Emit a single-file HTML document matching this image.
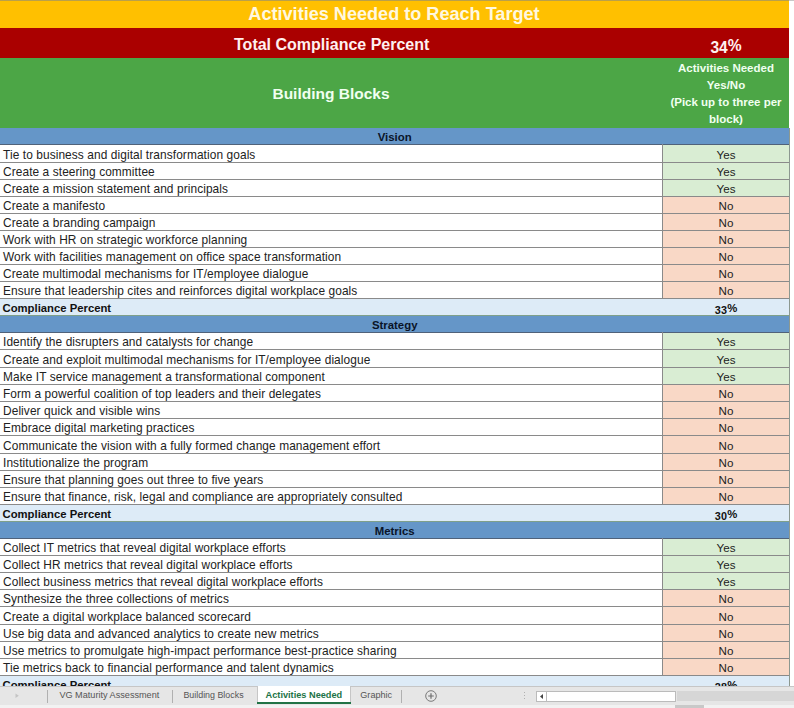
<!DOCTYPE html><html><head><meta charset="utf-8"><style>
html,body{margin:0;padding:0;width:794px;height:708px;overflow:hidden;background:#fff;}
body{position:relative;font-family:"Liberation Sans",sans-serif;}
.a{position:absolute;}
.t{position:absolute;white-space:nowrap;line-height:1;}
</style></head><body>

<div class="a" style="left:0;top:0;width:789px;height:1px;background:#B9A04A"></div>
<div class="a" style="left:789px;top:0;width:5px;height:1px;background:#C8C8C8"></div>
<div class="a" style="left:0;top:1px;width:789px;height:27px;background:#FFC000"></div>
<div class="a" style="left:0;top:28px;width:789px;height:30px;background:#AA0000"></div>
<div class="a" style="left:0;top:58px;width:789px;height:70px;background:#4CA646"></div>
<div class="t" style="left:94px;width:600px;text-align:center;top:5.48px;font-size:18.1px;font-weight:bold;color:#FFF8E0;">Activities Needed to Reach Target</div>
<div class="t" style="left:31.69999999999999px;width:600px;text-align:center;top:36.76px;font-size:16.0px;font-weight:bold;color:#FFF0F0;">Total Compliance Percent</div>
<div class="t" style="left:426px;width:600px;text-align:center;top:37.59px;font-size:15.6px;font-weight:bold;color:#FFF0F0;"><span style="position:relative;top:2.5px">34</span>%</div>
<div class="t" style="left:31px;width:600px;text-align:center;top:86.18px;font-size:15.5px;font-weight:bold;color:#F0FFF0;">Building Blocks</div>
<div class="t" style="left:426px;width:600px;text-align:center;top:62.97px;font-size:11.5px;font-weight:bold;color:#F0FFF0;">Activities Needed</div>
<div class="t" style="left:426px;width:600px;text-align:center;top:79.87px;font-size:11.5px;font-weight:bold;color:#F0FFF0;">Yes/No</div>
<div class="t" style="left:426px;width:600px;text-align:center;top:96.67px;font-size:11.5px;font-weight:bold;color:#F0FFF0;">(Pick up to three per</div>
<div class="t" style="left:426px;width:600px;text-align:center;top:113.57px;font-size:11.5px;font-weight:bold;color:#F0FFF0;">block)</div>
<div class="a" style="left:0;top:128px;width:789px;height:16px;background:#6596C8"></div>
<div class="a" style="left:0;top:144px;width:789px;height:1px;background:#50627A"></div>
<div class="t" style="left:94.69999999999999px;width:600px;text-align:center;top:132.05px;font-size:11.4px;font-weight:bold;color:#0A1428;">Vision</div>
<div class="a" style="left:663px;top:145px;width:126px;height:17px;background:#D9EDD3"></div>
<div class="a" style="left:0;top:162px;width:790px;height:1px;background:#8A8A8A"></div>
<div class="a" style="left:662px;top:144px;width:1px;height:19px;background:#8A8A8A"></div>
<div class="a" style="left:789px;top:144px;width:1px;height:19px;background:#8A8A8A"></div>
<div class="t" style="left:3px;top:150.33px;font-size:11.9px;color:#222222;letter-spacing:0.09px">Tie to business and digital transformation goals</div>
<div class="t" style="left:426px;width:600px;text-align:center;top:148.98px;font-size:11.6px;color:#222222;">Yes</div>
<div class="a" style="left:663px;top:163px;width:126px;height:16px;background:#D9EDD3"></div>
<div class="a" style="left:0;top:179px;width:790px;height:1px;background:#8A8A8A"></div>
<div class="a" style="left:662px;top:162px;width:1px;height:18px;background:#8A8A8A"></div>
<div class="a" style="left:789px;top:162px;width:1px;height:18px;background:#8A8A8A"></div>
<div class="t" style="left:3px;top:167.33px;font-size:11.9px;color:#222222;letter-spacing:0.09px">Create a steering committee</div>
<div class="t" style="left:426px;width:600px;text-align:center;top:165.98px;font-size:11.6px;color:#222222;">Yes</div>
<div class="a" style="left:663px;top:180px;width:126px;height:16px;background:#D9EDD3"></div>
<div class="a" style="left:0;top:196px;width:790px;height:1px;background:#8A8A8A"></div>
<div class="a" style="left:662px;top:179px;width:1px;height:18px;background:#8A8A8A"></div>
<div class="a" style="left:789px;top:179px;width:1px;height:18px;background:#8A8A8A"></div>
<div class="t" style="left:3px;top:184.33px;font-size:11.9px;color:#222222;letter-spacing:0.09px">Create a mission statement and principals</div>
<div class="t" style="left:426px;width:600px;text-align:center;top:182.98px;font-size:11.6px;color:#222222;">Yes</div>
<div class="a" style="left:663px;top:197px;width:126px;height:16px;background:#F9D8C6"></div>
<div class="a" style="left:0;top:213px;width:790px;height:1px;background:#8A8A8A"></div>
<div class="a" style="left:662px;top:196px;width:1px;height:18px;background:#8A8A8A"></div>
<div class="a" style="left:789px;top:196px;width:1px;height:18px;background:#8A8A8A"></div>
<div class="t" style="left:3px;top:201.33px;font-size:11.9px;color:#222222;letter-spacing:0.09px">Create a manifesto</div>
<div class="t" style="left:426px;width:600px;text-align:center;top:199.98px;font-size:11.6px;color:#222222;">No</div>
<div class="a" style="left:663px;top:214px;width:126px;height:16px;background:#F9D8C6"></div>
<div class="a" style="left:0;top:230px;width:790px;height:1px;background:#8A8A8A"></div>
<div class="a" style="left:662px;top:213px;width:1px;height:18px;background:#8A8A8A"></div>
<div class="a" style="left:789px;top:213px;width:1px;height:18px;background:#8A8A8A"></div>
<div class="t" style="left:3px;top:218.33px;font-size:11.9px;color:#222222;letter-spacing:0.09px">Create a branding campaign</div>
<div class="t" style="left:426px;width:600px;text-align:center;top:216.98px;font-size:11.6px;color:#222222;">No</div>
<div class="a" style="left:663px;top:231px;width:126px;height:16px;background:#F9D8C6"></div>
<div class="a" style="left:0;top:247px;width:790px;height:1px;background:#8A8A8A"></div>
<div class="a" style="left:662px;top:230px;width:1px;height:18px;background:#8A8A8A"></div>
<div class="a" style="left:789px;top:230px;width:1px;height:18px;background:#8A8A8A"></div>
<div class="t" style="left:3px;top:235.33px;font-size:11.9px;color:#222222;letter-spacing:0.09px">Work with HR on strategic workforce planning</div>
<div class="t" style="left:426px;width:600px;text-align:center;top:233.98px;font-size:11.6px;color:#222222;">No</div>
<div class="a" style="left:663px;top:248px;width:126px;height:16px;background:#F9D8C6"></div>
<div class="a" style="left:0;top:264px;width:790px;height:1px;background:#8A8A8A"></div>
<div class="a" style="left:662px;top:247px;width:1px;height:18px;background:#8A8A8A"></div>
<div class="a" style="left:789px;top:247px;width:1px;height:18px;background:#8A8A8A"></div>
<div class="t" style="left:3px;top:252.33px;font-size:11.9px;color:#222222;letter-spacing:0.09px">Work with facilities management on office space transformation</div>
<div class="t" style="left:426px;width:600px;text-align:center;top:250.98px;font-size:11.6px;color:#222222;">No</div>
<div class="a" style="left:663px;top:265px;width:126px;height:16px;background:#F9D8C6"></div>
<div class="a" style="left:0;top:281px;width:790px;height:1px;background:#8A8A8A"></div>
<div class="a" style="left:662px;top:264px;width:1px;height:18px;background:#8A8A8A"></div>
<div class="a" style="left:789px;top:264px;width:1px;height:18px;background:#8A8A8A"></div>
<div class="t" style="left:3px;top:269.33px;font-size:11.9px;color:#222222;letter-spacing:0.09px">Create multimodal mechanisms for IT/employee dialogue</div>
<div class="t" style="left:426px;width:600px;text-align:center;top:267.98px;font-size:11.6px;color:#222222;">No</div>
<div class="a" style="left:663px;top:282px;width:126px;height:16px;background:#F9D8C6"></div>
<div class="a" style="left:0;top:298px;width:790px;height:1px;background:#8A8A8A"></div>
<div class="a" style="left:662px;top:281px;width:1px;height:18px;background:#8A8A8A"></div>
<div class="a" style="left:789px;top:281px;width:1px;height:18px;background:#8A8A8A"></div>
<div class="t" style="left:3px;top:286.33px;font-size:11.9px;color:#222222;letter-spacing:0.09px">Ensure that leadership cites and reinforces digital workplace goals</div>
<div class="t" style="left:426px;width:600px;text-align:center;top:284.98px;font-size:11.6px;color:#222222;">No</div>
<div class="a" style="left:0;top:299px;width:789px;height:16px;background:#DDEBF7"></div>
<div class="a" style="left:0;top:315px;width:789px;height:1px;background:#7FA08A"></div>
<div class="a" style="left:789px;top:299px;width:1px;height:17px;background:#9CC4A0"></div>
<div class="t" style="left:2.5px;top:302.83px;font-size:11.3px;font-weight:bold;color:#111;">Compliance Percent</div>
<div class="t" style="left:426px;width:600px;text-align:center;top:302.83px;font-size:11.3px;font-weight:bold;color:#111;"><span style="position:relative;top:2.5px;font-size:96%;letter-spacing:0.2px">33</span>%</div>
<div class="a" style="left:0;top:316px;width:789px;height:16px;background:#6596C8"></div>
<div class="a" style="left:0;top:332px;width:789px;height:1px;background:#50627A"></div>
<div class="t" style="left:94.69999999999999px;width:600px;text-align:center;top:320.05px;font-size:11.4px;font-weight:bold;color:#0A1428;">Strategy</div>
<div class="a" style="left:663px;top:333px;width:126px;height:16px;background:#D9EDD3"></div>
<div class="a" style="left:0;top:349px;width:790px;height:1px;background:#8A8A8A"></div>
<div class="a" style="left:662px;top:332px;width:1px;height:18px;background:#8A8A8A"></div>
<div class="a" style="left:789px;top:332px;width:1px;height:18px;background:#8A8A8A"></div>
<div class="t" style="left:3px;top:337.33px;font-size:11.9px;color:#222222;letter-spacing:0.09px">Identify the disrupters and catalysts for change</div>
<div class="t" style="left:426px;width:600px;text-align:center;top:335.98px;font-size:11.6px;color:#222222;">Yes</div>
<div class="a" style="left:663px;top:350px;width:126px;height:17px;background:#D9EDD3"></div>
<div class="a" style="left:0;top:367px;width:790px;height:1px;background:#8A8A8A"></div>
<div class="a" style="left:662px;top:349px;width:1px;height:19px;background:#8A8A8A"></div>
<div class="a" style="left:789px;top:349px;width:1px;height:19px;background:#8A8A8A"></div>
<div class="t" style="left:3px;top:355.33px;font-size:11.9px;color:#222222;letter-spacing:0.09px">Create and exploit multimodal mechanisms for IT/employee dialogue</div>
<div class="t" style="left:426px;width:600px;text-align:center;top:353.98px;font-size:11.6px;color:#222222;">Yes</div>
<div class="a" style="left:663px;top:368px;width:126px;height:16px;background:#D9EDD3"></div>
<div class="a" style="left:0;top:384px;width:790px;height:1px;background:#8A8A8A"></div>
<div class="a" style="left:662px;top:367px;width:1px;height:18px;background:#8A8A8A"></div>
<div class="a" style="left:789px;top:367px;width:1px;height:18px;background:#8A8A8A"></div>
<div class="t" style="left:3px;top:372.33px;font-size:11.9px;color:#222222;letter-spacing:0.09px">Make IT service management a transformational component</div>
<div class="t" style="left:426px;width:600px;text-align:center;top:370.98px;font-size:11.6px;color:#222222;">Yes</div>
<div class="a" style="left:663px;top:385px;width:126px;height:16px;background:#F9D8C6"></div>
<div class="a" style="left:0;top:401px;width:790px;height:1px;background:#8A8A8A"></div>
<div class="a" style="left:662px;top:384px;width:1px;height:18px;background:#8A8A8A"></div>
<div class="a" style="left:789px;top:384px;width:1px;height:18px;background:#8A8A8A"></div>
<div class="t" style="left:3px;top:389.33px;font-size:11.9px;color:#222222;letter-spacing:0.09px">Form a powerful coalition of top leaders and their delegates</div>
<div class="t" style="left:426px;width:600px;text-align:center;top:387.98px;font-size:11.6px;color:#222222;">No</div>
<div class="a" style="left:663px;top:402px;width:126px;height:16px;background:#F9D8C6"></div>
<div class="a" style="left:0;top:418px;width:790px;height:1px;background:#8A8A8A"></div>
<div class="a" style="left:662px;top:401px;width:1px;height:18px;background:#8A8A8A"></div>
<div class="a" style="left:789px;top:401px;width:1px;height:18px;background:#8A8A8A"></div>
<div class="t" style="left:3px;top:406.33px;font-size:11.9px;color:#222222;letter-spacing:0.09px">Deliver quick and visible wins</div>
<div class="t" style="left:426px;width:600px;text-align:center;top:404.98px;font-size:11.6px;color:#222222;">No</div>
<div class="a" style="left:663px;top:419px;width:126px;height:16px;background:#F9D8C6"></div>
<div class="a" style="left:0;top:435px;width:790px;height:1px;background:#8A8A8A"></div>
<div class="a" style="left:662px;top:418px;width:1px;height:18px;background:#8A8A8A"></div>
<div class="a" style="left:789px;top:418px;width:1px;height:18px;background:#8A8A8A"></div>
<div class="t" style="left:3px;top:423.33px;font-size:11.9px;color:#222222;letter-spacing:0.09px">Embrace digital marketing practices</div>
<div class="t" style="left:426px;width:600px;text-align:center;top:421.98px;font-size:11.6px;color:#222222;">No</div>
<div class="a" style="left:663px;top:436px;width:126px;height:17px;background:#F9D8C6"></div>
<div class="a" style="left:0;top:453px;width:790px;height:1px;background:#8A8A8A"></div>
<div class="a" style="left:662px;top:435px;width:1px;height:19px;background:#8A8A8A"></div>
<div class="a" style="left:789px;top:435px;width:1px;height:19px;background:#8A8A8A"></div>
<div class="t" style="left:3px;top:441.33px;font-size:11.9px;color:#222222;letter-spacing:0.09px">Communicate the vision with a fully formed change management effort</div>
<div class="t" style="left:426px;width:600px;text-align:center;top:439.98px;font-size:11.6px;color:#222222;">No</div>
<div class="a" style="left:663px;top:454px;width:126px;height:16px;background:#F9D8C6"></div>
<div class="a" style="left:0;top:470px;width:790px;height:1px;background:#8A8A8A"></div>
<div class="a" style="left:662px;top:453px;width:1px;height:18px;background:#8A8A8A"></div>
<div class="a" style="left:789px;top:453px;width:1px;height:18px;background:#8A8A8A"></div>
<div class="t" style="left:3px;top:458.33px;font-size:11.9px;color:#222222;letter-spacing:0.09px">Institutionalize the program</div>
<div class="t" style="left:426px;width:600px;text-align:center;top:456.98px;font-size:11.6px;color:#222222;">No</div>
<div class="a" style="left:663px;top:471px;width:126px;height:16px;background:#F9D8C6"></div>
<div class="a" style="left:0;top:487px;width:790px;height:1px;background:#8A8A8A"></div>
<div class="a" style="left:662px;top:470px;width:1px;height:18px;background:#8A8A8A"></div>
<div class="a" style="left:789px;top:470px;width:1px;height:18px;background:#8A8A8A"></div>
<div class="t" style="left:3px;top:475.33px;font-size:11.9px;color:#222222;letter-spacing:0.09px">Ensure that planning goes out three to five years</div>
<div class="t" style="left:426px;width:600px;text-align:center;top:473.98px;font-size:11.6px;color:#222222;">No</div>
<div class="a" style="left:663px;top:488px;width:126px;height:16px;background:#F9D8C6"></div>
<div class="a" style="left:0;top:504px;width:790px;height:1px;background:#8A8A8A"></div>
<div class="a" style="left:662px;top:487px;width:1px;height:18px;background:#8A8A8A"></div>
<div class="a" style="left:789px;top:487px;width:1px;height:18px;background:#8A8A8A"></div>
<div class="t" style="left:3px;top:492.33px;font-size:11.9px;color:#222222;letter-spacing:0.09px">Ensure that finance, risk, legal and compliance are appropriately consulted</div>
<div class="t" style="left:426px;width:600px;text-align:center;top:490.98px;font-size:11.6px;color:#222222;">No</div>
<div class="a" style="left:0;top:505px;width:789px;height:16px;background:#DDEBF7"></div>
<div class="a" style="left:0;top:521px;width:789px;height:1px;background:#7FA08A"></div>
<div class="a" style="left:789px;top:505px;width:1px;height:17px;background:#9CC4A0"></div>
<div class="t" style="left:2.5px;top:508.83px;font-size:11.3px;font-weight:bold;color:#111;">Compliance Percent</div>
<div class="t" style="left:426px;width:600px;text-align:center;top:508.83px;font-size:11.3px;font-weight:bold;color:#111;"><span style="position:relative;top:2.5px;font-size:96%;letter-spacing:0.2px">30</span>%</div>
<div class="a" style="left:0;top:522px;width:789px;height:16px;background:#6596C8"></div>
<div class="a" style="left:0;top:538px;width:789px;height:1px;background:#50627A"></div>
<div class="t" style="left:94.69999999999999px;width:600px;text-align:center;top:526.05px;font-size:11.4px;font-weight:bold;color:#0A1428;">Metrics</div>
<div class="a" style="left:663px;top:539px;width:126px;height:16px;background:#D9EDD3"></div>
<div class="a" style="left:0;top:555px;width:790px;height:1px;background:#8A8A8A"></div>
<div class="a" style="left:662px;top:538px;width:1px;height:18px;background:#8A8A8A"></div>
<div class="a" style="left:789px;top:538px;width:1px;height:18px;background:#8A8A8A"></div>
<div class="t" style="left:3px;top:543.33px;font-size:11.9px;color:#222222;letter-spacing:0.09px">Collect IT metrics that reveal digital workplace efforts</div>
<div class="t" style="left:426px;width:600px;text-align:center;top:541.98px;font-size:11.6px;color:#222222;">Yes</div>
<div class="a" style="left:663px;top:556px;width:126px;height:16px;background:#D9EDD3"></div>
<div class="a" style="left:0;top:572px;width:790px;height:1px;background:#8A8A8A"></div>
<div class="a" style="left:662px;top:555px;width:1px;height:18px;background:#8A8A8A"></div>
<div class="a" style="left:789px;top:555px;width:1px;height:18px;background:#8A8A8A"></div>
<div class="t" style="left:3px;top:560.33px;font-size:11.9px;color:#222222;letter-spacing:0.09px">Collect HR metrics that reveal digital workplace efforts</div>
<div class="t" style="left:426px;width:600px;text-align:center;top:558.98px;font-size:11.6px;color:#222222;">Yes</div>
<div class="a" style="left:663px;top:573px;width:126px;height:16px;background:#D9EDD3"></div>
<div class="a" style="left:0;top:589px;width:790px;height:1px;background:#8A8A8A"></div>
<div class="a" style="left:662px;top:572px;width:1px;height:18px;background:#8A8A8A"></div>
<div class="a" style="left:789px;top:572px;width:1px;height:18px;background:#8A8A8A"></div>
<div class="t" style="left:3px;top:577.33px;font-size:11.9px;color:#222222;letter-spacing:0.09px">Collect business metrics that reveal digital workplace efforts</div>
<div class="t" style="left:426px;width:600px;text-align:center;top:575.98px;font-size:11.6px;color:#222222;">Yes</div>
<div class="a" style="left:663px;top:590px;width:126px;height:16px;background:#F9D8C6"></div>
<div class="a" style="left:0;top:606px;width:790px;height:1px;background:#8A8A8A"></div>
<div class="a" style="left:662px;top:589px;width:1px;height:18px;background:#8A8A8A"></div>
<div class="a" style="left:789px;top:589px;width:1px;height:18px;background:#8A8A8A"></div>
<div class="t" style="left:3px;top:594.33px;font-size:11.9px;color:#222222;letter-spacing:0.09px">Synthesize the three collections of metrics</div>
<div class="t" style="left:426px;width:600px;text-align:center;top:592.98px;font-size:11.6px;color:#222222;">No</div>
<div class="a" style="left:663px;top:607px;width:126px;height:17px;background:#F9D8C6"></div>
<div class="a" style="left:0;top:624px;width:790px;height:1px;background:#8A8A8A"></div>
<div class="a" style="left:662px;top:606px;width:1px;height:19px;background:#8A8A8A"></div>
<div class="a" style="left:789px;top:606px;width:1px;height:19px;background:#8A8A8A"></div>
<div class="t" style="left:3px;top:612.33px;font-size:11.9px;color:#222222;letter-spacing:0.09px">Create a digital workplace balanced scorecard</div>
<div class="t" style="left:426px;width:600px;text-align:center;top:610.98px;font-size:11.6px;color:#222222;">No</div>
<div class="a" style="left:663px;top:625px;width:126px;height:16px;background:#F9D8C6"></div>
<div class="a" style="left:0;top:641px;width:790px;height:1px;background:#8A8A8A"></div>
<div class="a" style="left:662px;top:624px;width:1px;height:18px;background:#8A8A8A"></div>
<div class="a" style="left:789px;top:624px;width:1px;height:18px;background:#8A8A8A"></div>
<div class="t" style="left:3px;top:629.33px;font-size:11.9px;color:#222222;letter-spacing:0.09px">Use big data and advanced analytics to create new metrics</div>
<div class="t" style="left:426px;width:600px;text-align:center;top:627.98px;font-size:11.6px;color:#222222;">No</div>
<div class="a" style="left:663px;top:642px;width:126px;height:16px;background:#F9D8C6"></div>
<div class="a" style="left:0;top:658px;width:790px;height:1px;background:#8A8A8A"></div>
<div class="a" style="left:662px;top:641px;width:1px;height:18px;background:#8A8A8A"></div>
<div class="a" style="left:789px;top:641px;width:1px;height:18px;background:#8A8A8A"></div>
<div class="t" style="left:3px;top:646.33px;font-size:11.9px;color:#222222;letter-spacing:0.09px">Use metrics to promulgate high-impact performance best-practice sharing</div>
<div class="t" style="left:426px;width:600px;text-align:center;top:644.98px;font-size:11.6px;color:#222222;">No</div>
<div class="a" style="left:663px;top:659px;width:126px;height:16px;background:#F9D8C6"></div>
<div class="a" style="left:0;top:675px;width:790px;height:1px;background:#8A8A8A"></div>
<div class="a" style="left:662px;top:658px;width:1px;height:18px;background:#8A8A8A"></div>
<div class="a" style="left:789px;top:658px;width:1px;height:18px;background:#8A8A8A"></div>
<div class="t" style="left:3px;top:663.33px;font-size:11.9px;color:#222222;letter-spacing:0.09px">Tie metrics back to financial performance and talent dynamics</div>
<div class="t" style="left:426px;width:600px;text-align:center;top:661.98px;font-size:11.6px;color:#222222;">No</div>
<div class="a" style="left:0;top:676px;width:789px;height:16px;background:#DDEBF7"></div>
<div class="a" style="left:0;top:692px;width:789px;height:1px;background:#7FA08A"></div>
<div class="a" style="left:789px;top:676px;width:1px;height:17px;background:#9CC4A0"></div>
<div class="t" style="left:2.5px;top:679.83px;font-size:11.3px;font-weight:bold;color:#111;">Compliance Percent</div>
<div class="t" style="left:426px;width:600px;text-align:center;top:679.83px;font-size:11.3px;font-weight:bold;color:#111;"><span style="position:relative;top:2.5px;font-size:96%;letter-spacing:0.2px">28</span>%</div>
<div class="a" style="left:789px;top:128px;width:1px;height:558px;background:#8C9890"></div>
<div class="a" style="left:0;top:686px;width:794px;height:22px;background:#E6E6E6"></div>
<div class="a" style="left:0;top:686px;width:794px;height:1px;background:#C6C6C6"></div>
<div class="a" style="left:677px;top:691px;width:117px;height:10px;background:#D6D6D6"></div>
<div class="a" style="left:0;top:705px;width:794px;height:3px;background:#F2F2F2"></div>
<div class="a" style="left:675px;top:705px;width:29px;height:3px;background:#C8C8C8"></div>
<div class="a" style="left:47px;top:690px;width:1px;height:13px;background:#B0B0B0"></div>
<div class="a" style="left:172px;top:690px;width:1px;height:13px;background:#B0B0B0"></div>
<div class="a" style="left:401px;top:690px;width:1px;height:13px;background:#B0B0B0"></div>
<div class="a" style="left:257px;top:686px;width:94px;height:18px;background:#FFFFFF;border-left:1px solid #C6C6C6;border-right:1px solid #C6C6C6;box-sizing:border-box"></div>
<div class="a" style="left:257px;top:702px;width:94px;height:2px;background:#217346"></div>
<svg class="a" style="left:15px;top:693px" width="5" height="6"><path d="M0.5 0.5 L3.8 2.7 L0.5 5 Z" fill="#C4C4C4"/></svg>
<svg class="a" style="left:424px;top:689px" width="14" height="14"><circle cx="7" cy="7" r="5.3" fill="none" stroke="#7A7A7A" stroke-width="1"/><path d="M7 4.2 V9.8 M4.2 7 H9.8" stroke="#6E6E6E" stroke-width="1.2"/></svg>
<div class="a" style="left:524px;top:692px;width:1px;height:1px;background:#B0B0B0"></div>
<div class="a" style="left:524px;top:695px;width:1px;height:1px;background:#B0B0B0"></div>
<div class="a" style="left:524px;top:698px;width:1px;height:1px;background:#B0B0B0"></div>
<div class="a" style="left:536px;top:691px;width:140px;height:11px;background:#fff;border:1px solid #BBBBBB;box-sizing:border-box"></div>
<div class="a" style="left:546px;top:692px;width:1px;height:9px;background:#BBBBBB"></div>
<svg class="a" style="left:538px;top:692px" width="8" height="9"><path d="M5 2 L2 4.5 L5 7 Z" fill="#444"/></svg>

<div class="t" style="left:59.4px;top:691.25px;font-size:9.15px;color:#555;">VG Maturity Assessment</div>
<div class="t" style="left:183.4px;top:691.47px;font-size:8.9px;color:#555;">Building Blocks</div>
<div class="t" style="left:265.6px;top:691.21px;font-size:9.2px;font-weight:bold;color:#217346;">Activities Needed</div>
<div class="t" style="left:360.3px;top:691.30px;font-size:9.1px;color:#555;">Graphic</div>
</body></html>
